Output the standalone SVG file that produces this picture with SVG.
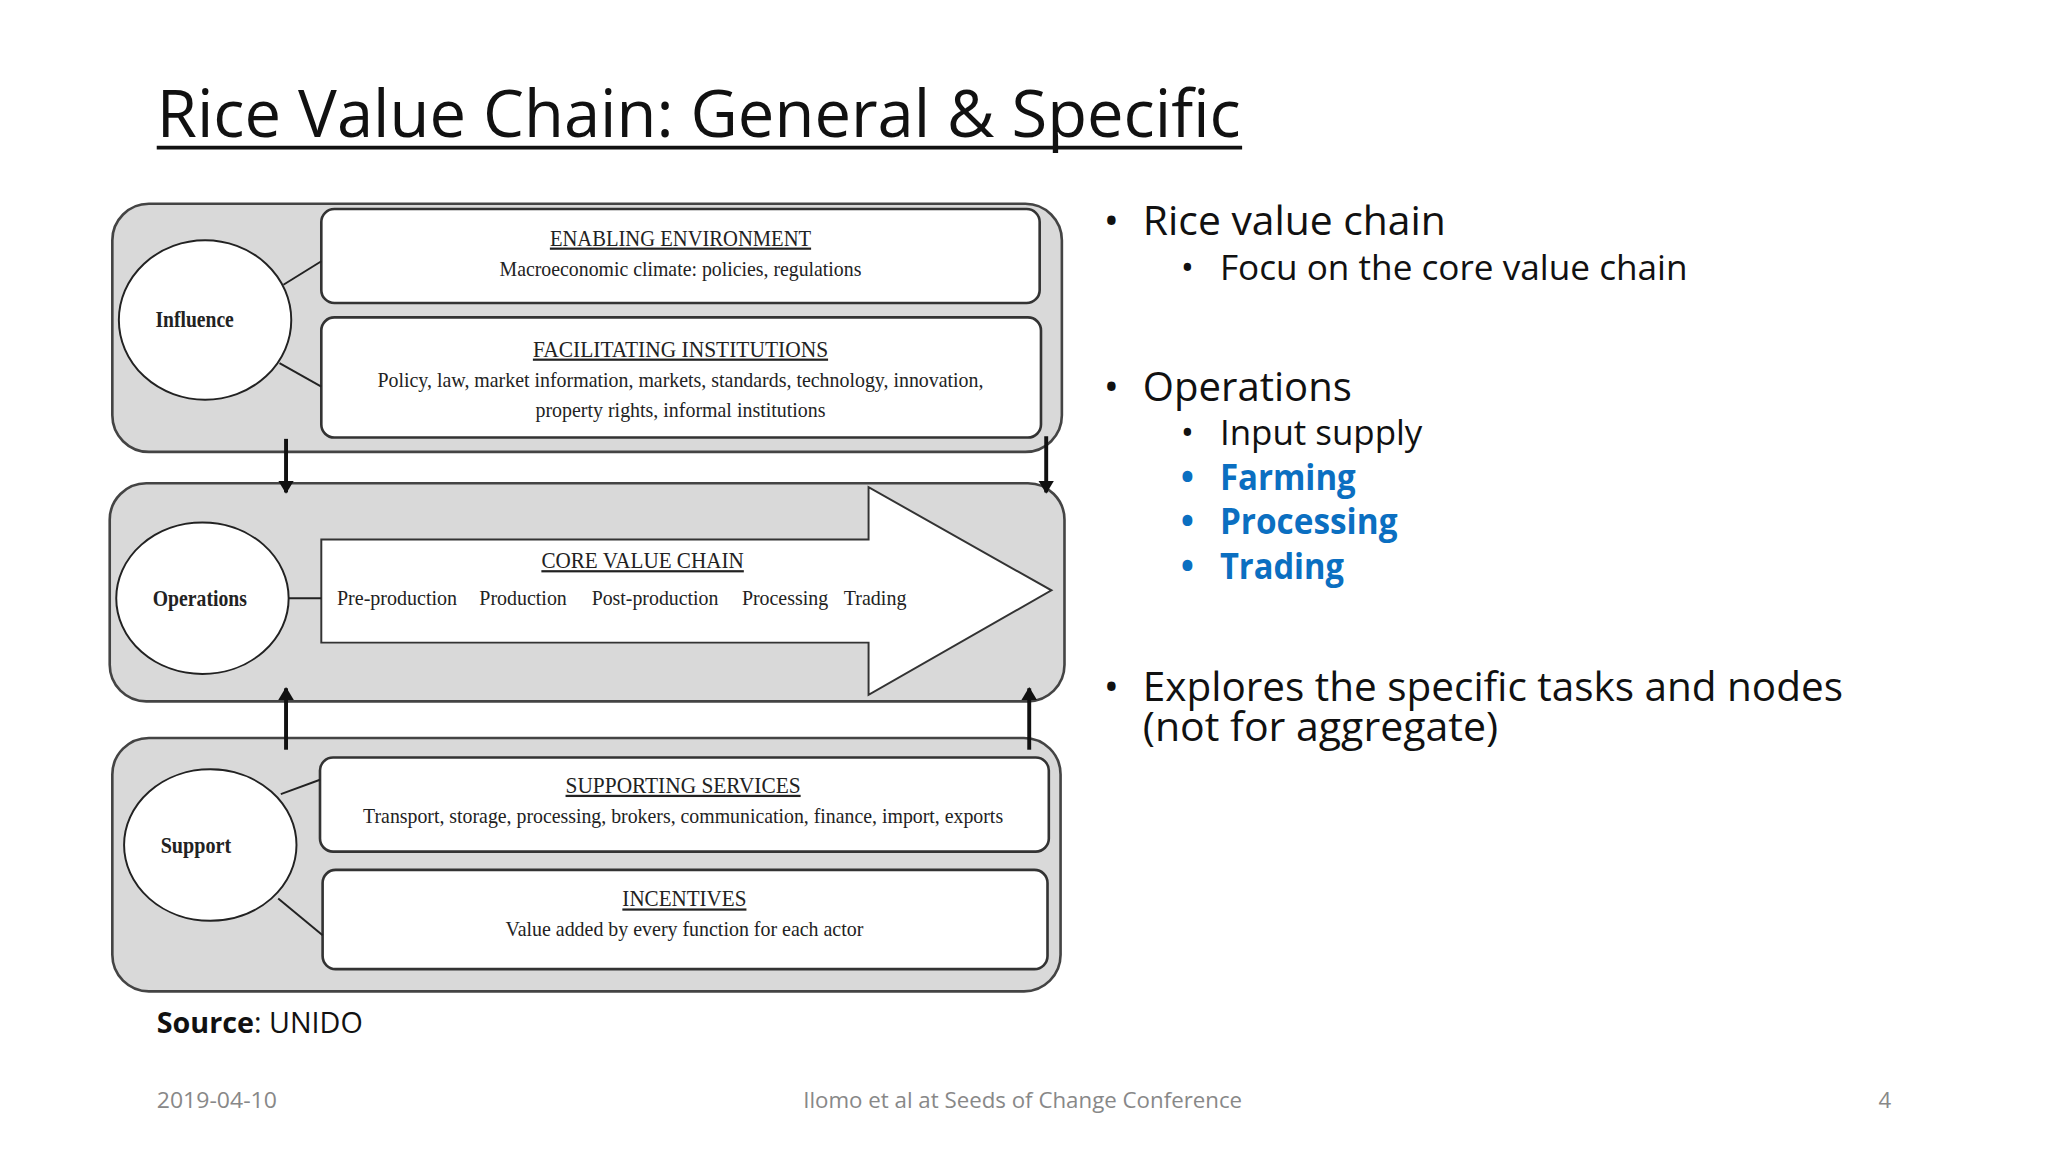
<svg xmlns="http://www.w3.org/2000/svg" width="2048" height="1152" viewBox="0 0 2048 1152">
<style>
.band{fill:#d9d9d9;stroke:#444;stroke-width:2}
.box{fill:#fff;stroke:#333;stroke-width:2}
.c{fill:#fff;stroke:#222;stroke-width:1.5}
.ln{stroke:#222;stroke-width:1.5;fill:none}
.ar{stroke:#111;stroke-width:3;fill:none}
.s{font-family:"Liberation Serif",serif;fill:#222}
.h{font-size:17px;text-decoration:underline;text-anchor:middle}
.b{font-size:16px;text-anchor:middle}
.lb{font-size:17px;font-weight:bold;text-anchor:middle}
.t{font-family:"Open Sans","Liberation Sans",sans-serif;fill:#111}
.blue{fill:#0b6fc1;font-weight:bold}
</style>
<defs><marker id="ah" markerWidth="10" markerHeight="12" refX="9" refY="6" orient="auto" markerUnits="userSpaceOnUse"><path d="M0,0 L10,6 L0,12 z" fill="#111"/></marker></defs>
<rect width="2048" height="1152" fill="#fff"/>
<g transform="scale(1.30612)">
<text class="t" x="120" y="105" font-size="50" textLength="830" lengthAdjust="spacingAndGlyphs">Rice Value Chain: General &amp; Specific</text>
<line x1="120" y1="113" x2="951" y2="113" stroke="#111" stroke-width="3"/>

<g id="influence">
<rect class="band" x="86" y="156" width="727" height="190" rx="28"/>
<ellipse class="c" cx="157" cy="245" rx="66" ry="61"/>
<text class="s lb" x="149" y="250" textLength="60" lengthAdjust="spacingAndGlyphs">Influence</text>
</g>
<g id="enabling">
<rect class="box" x="246" y="160" width="550" height="72" rx="10"/>
<text class="s h" x="521" y="188" textLength="200" lengthAdjust="spacingAndGlyphs">ENABLING ENVIRONMENT</text>
<text class="s b" x="521" y="211" textLength="277" lengthAdjust="spacingAndGlyphs">Macroeconomic climate: policies, regulations</text>
</g>
<g id="facilitating">
<rect class="box" x="246" y="243" width="551" height="92" rx="10"/>
<text class="s h" x="521" y="273" textLength="226" lengthAdjust="spacingAndGlyphs">FACILITATING INSTITUTIONS</text>
<text class="s b" x="521" y="296" textLength="464" lengthAdjust="spacingAndGlyphs">Policy, law, market information, markets, standards, technology, innovation,</text>
<text class="s b" x="521" y="319" textLength="222" lengthAdjust="spacingAndGlyphs">property rights, informal institutions</text>
</g>

<g id="operations">
<rect class="band" x="84" y="370" width="731" height="167" rx="28"/>
<ellipse class="c" cx="155" cy="458" rx="66" ry="58"/>
<text class="s lb" x="153" y="464" textLength="72" lengthAdjust="spacingAndGlyphs">Operations</text>
</g>
<g id="core">
<polygon points="246,413 665,413 665,373 805,452 665,532 665,492 246,492" fill="#fff" stroke="#333" stroke-width="1.5"/>
<text class="s h" x="492" y="435" textLength="155" lengthAdjust="spacingAndGlyphs">CORE VALUE CHAIN</text>
<text class="s" x="258" y="463" font-size="16" textLength="92" lengthAdjust="spacingAndGlyphs">Pre-production</text>
<text class="s" x="367" y="463" font-size="16" textLength="67" lengthAdjust="spacingAndGlyphs">Production</text>
<text class="s" x="453" y="463" font-size="16" textLength="97" lengthAdjust="spacingAndGlyphs">Post-production</text>
<text class="s" x="568" y="463" font-size="16" textLength="66" lengthAdjust="spacingAndGlyphs">Processing</text>
<text class="s" x="646" y="463" font-size="16" textLength="48" lengthAdjust="spacingAndGlyphs">Trading</text>
</g>

<g id="support">
<rect class="band" x="86" y="565" width="726" height="194" rx="28"/>
<ellipse class="c" cx="161" cy="647" rx="66" ry="58"/>
<text class="s lb" x="150" y="653" textLength="54" lengthAdjust="spacingAndGlyphs">Support</text>
</g>
<g id="supporting">
<rect class="box" x="245" y="580" width="558" height="72" rx="10"/>
<text class="s h" x="523" y="607" textLength="180" lengthAdjust="spacingAndGlyphs">SUPPORTING SERVICES</text>
<text class="s b" x="523" y="630" textLength="490" lengthAdjust="spacingAndGlyphs">Transport, storage, processing, brokers, communication, finance, import, exports</text>
</g>
<g id="incentives">
<rect class="box" x="247" y="666" width="555" height="76" rx="10"/>
<text class="s h" x="524" y="694" textLength="95" lengthAdjust="spacingAndGlyphs">INCENTIVES</text>
<text class="s b" x="524" y="717" textLength="274" lengthAdjust="spacingAndGlyphs">Value added by every function for each actor</text>
</g>

<g id="connectors">
<line class="ln" x1="217" y1="218" x2="246" y2="200"/>
<line class="ln" x1="214" y1="278" x2="246" y2="296"/>
<line class="ln" x1="221" y1="458" x2="246" y2="458"/>
<line class="ln" x1="215" y1="608" x2="245" y2="597"/>
<line class="ln" x1="213" y1="688" x2="247" y2="716"/>
<line class="ar" x1="219" y1="336" x2="219" y2="377" marker-end="url(#ah)"/>
<line class="ar" x1="801" y1="334" x2="801" y2="377" marker-end="url(#ah)"/>
<line class="ar" x1="219" y1="574" x2="219" y2="527" marker-end="url(#ah)"/>
<line class="ar" x1="788" y1="574" x2="788" y2="527" marker-end="url(#ah)"/>
</g>

<text class="t" x="120" y="791" font-size="22"><tspan font-weight="bold">Source</tspan>: UNIDO</text>

<g class="t" font-size="31">
<text x="845" y="180">•</text><text x="875" y="180" textLength="232" lengthAdjust="spacingAndGlyphs">Rice value chain</text>
<text x="845" y="307">•</text><text x="875" y="307" textLength="160" lengthAdjust="spacingAndGlyphs">Operations</text>
<text x="845" y="537">•</text><text x="875" y="537" textLength="536" lengthAdjust="spacingAndGlyphs">Explores the specific tasks and nodes</text>
<text x="875" y="567" textLength="272" lengthAdjust="spacingAndGlyphs">(not for aggregate)</text>
</g>
<g class="t" font-size="27">
<text x="904" y="214">•</text><text x="934" y="214" textLength="358" lengthAdjust="spacingAndGlyphs">Focu on the core value chain</text>
<text x="904" y="341">•</text><text x="934" y="341" textLength="155" lengthAdjust="spacingAndGlyphs">Input supply</text>
<text x="904" y="375" class="blue">•</text><text x="934" y="375" class="blue" textLength="104" lengthAdjust="spacingAndGlyphs">Farming</text>
<text x="904" y="409" class="blue">•</text><text x="934" y="409" class="blue" textLength="136" lengthAdjust="spacingAndGlyphs">Processing</text>
<text x="904" y="443" class="blue">•</text><text x="934" y="443" class="blue" textLength="95" lengthAdjust="spacingAndGlyphs">Trading</text>
</g>
<g class="t" font-size="17" fill="#888">
<text x="120" y="848" fill="#888" textLength="92" lengthAdjust="spacingAndGlyphs">2019-04-10</text>
<text x="783" y="848" fill="#888" text-anchor="middle" textLength="336" lengthAdjust="spacingAndGlyphs">Ilomo et al at Seeds of Change Conference</text>
<text x="1448" y="848" fill="#888" text-anchor="end">4</text>
</g>
</g>
</svg>
